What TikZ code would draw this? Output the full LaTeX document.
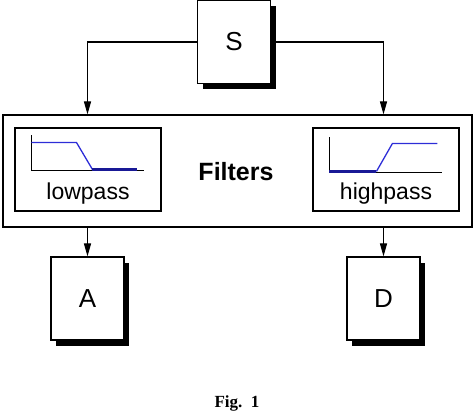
\documentclass[tikz,border=0pt]{standalone}
\usepackage{fontspec}
\setmainfont{Liberation Serif}
\setsansfont{Liberation Sans}
\usepackage{tikz}
\usetikzlibrary{arrows.meta, positioning, shadows}

\definecolor{curveblue}{RGB}{45,45,215}
\definecolor{stopblue}{RGB}{25,25,150}

\begin{document}
\begin{tikzpicture}[
    x=1pt, y=-1pt,
    block/.style={
        rectangle,
        draw=black,
        fill=white,
        line width=1.1pt,
        minimum width=73pt,
        minimum height=83pt,
        font=\sffamily\fontsize{26}{29}\selectfont,
        general shadow={fill=black, shadow xshift=5pt, shadow yshift=-6pt}
    },
    filterbox/.style={
        rectangle,
        draw=black,
        line width=1.1pt,
        minimum width=146pt,
        minimum height=83pt
    },
    lbl/.style={
        font=\sffamily\fontsize{23}{26}\selectfont,
        inner sep=0pt
    },
    link/.style={
        -{Triangle[width=7pt, length=13pt]},
        draw=black,
        line width=1.1pt
    },
    curve/.style={
        draw=curveblue,
        line width=1.3pt
    }
]
    \useasboundingbox (0,0) rectangle (474,414);

    % source and outputs
    \node (s) [block] at (234,42) {S};
    \node (a) [block] at (87.5,298.5) {A};
    \node (d) [block] at (383.5,298.5) {D};

    % filter bank
    \node (filters) [rectangle, draw=black, line width=1.1pt,
        minimum width=469pt, minimum height=112pt] at (237.5,171) {};
    \node (title) [font=\sffamily\bfseries\fontsize{25}{28}\selectfont]
        at (236,172) {Filters};
    \node (lowpass) [filterbox] at (88,169.5) {};
    \node (highpass) [filterbox] at (386,169.5) {};
    \node (lowlbl) [lbl] at (88,194) {lowpass};
    \node (highlbl) [lbl] at (386,194) {highpass};

    % responses
    \begin{scope}[shift={(lowpass.north west)}]
        \draw [line width=1.1pt] (17,8) -- (17,43) -- (130,43);
        \draw [curve] (17,15) -- (62,15) -- (78,42);
        \draw [draw=stopblue, line width=2.2pt] (78,42) -- (123,42);
    \end{scope}
    \begin{scope}[shift={(highpass.north west)}]
        \draw [line width=1.1pt] (17,10) -- (17,45) -- (130,45);
        \draw [draw=stopblue, line width=2.2pt] (17,44) -- (64,44);
        \draw [curve] (64,44) -- (80,16) -- (125,16);
    \end{scope}

    \draw [link] (s.west) -| (a |- filters.north);
    \draw [link] (s.east) -| (d |- filters.north);
    \draw [link] (a |- filters.south) -- (a.north);
    \draw [link] (d |- filters.south) -- (d.north);

    \node (caption) [font=\rmfamily\bfseries\fontsize{17}{19}\selectfont]
        at (237,403) {Fig.\ \ 1};

\end{tikzpicture}
\end{document}
